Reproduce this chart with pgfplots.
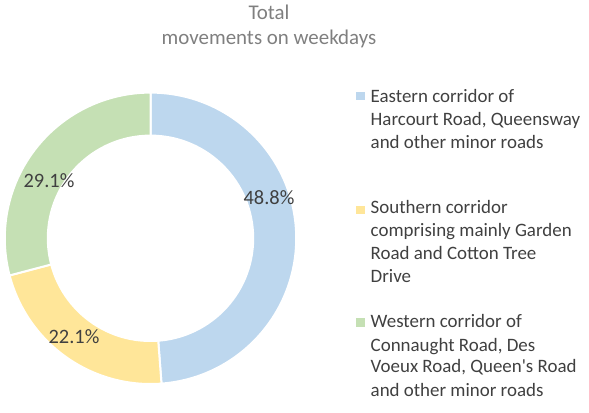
\documentclass[border=0pt]{standalone}
\usepackage{pgfplots}
\usepackage{pgfplotstable}
\usepackage{fontspec}
\setmainfont{Carlito}
\pgfplotsset{compat=1.18}

\definecolor{cblue}{HTML}{BDD7EE}
\definecolor{cyellow}{HTML}{FFE699}
\definecolor{cgreen}{HTML}{C5E0B4}
\definecolor{labgray}{HTML}{404040}
\definecolor{titlegray}{HTML}{7F7F7F}

% share in percent, fill colour, label position (axis units)
\pgfplotstableread{
share colour lx     ly
48.8  cblue   0.813  0.277
22.1  cyellow -0.525 -0.677
29.1  cgreen  -0.697 0.393
}\donut

\begin{document}
\begin{tikzpicture}
\path[use as bounding box] (0,0) rectangle (589bp,413bp);

\begin{axis}[
    at={(4.8bp,29bp)}, anchor=south west,
    scale only axis,
    width=291.4bp, height=291.4bp,
    xmin=-1, xmax=1, ymin=-1, ymax=1,
    hide axis, clip=false,
]
\pgfplotstablegetrowsof{\donut}
\pgfmathtruncatemacro{\last}{\pgfplotsretval-1}
\def\angA{90}
\pgfplotsforeachungrouped \i in {0,...,\last}{%
  \pgfplotstablegetelem{\i}{share}\of{\donut}\let\sh\pgfplotsretval
  \pgfplotstablegetelem{\i}{colour}\of{\donut}\let\col\pgfplotsretval
  \pgfmathsetmacro{\angB}{\angA-3.6*\sh}
  \edef\temp{%
    \noexpand\fill[\col, draw=white, line width=2bp, line join=round]
      (axis cs:0,0) -- ++(\angA:145.7bp)
      arc[start angle=\angA, end angle=\angB, radius=145.7bp] -- cycle;
  }\temp
  \let\angA\angB
}
\fill[white] (axis cs:0,0) circle[radius=103.7bp];
\pgfplotsforeachungrouped \i in {0,...,\last}{%
  \pgfplotstablegetelem{\i}{share}\of{\donut}\let\sh\pgfplotsretval
  \pgfplotstablegetelem{\i}{lx}\of{\donut}\let\lx\pgfplotsretval
  \pgfplotstablegetelem{\i}{ly}\of{\donut}\let\ly\pgfplotsretval
  \edef\temp{%
    \noexpand\node[text=labgray, inner sep=0pt,
      font=\noexpand\fontsize{20.5}{24}\noexpand\selectfont]
      at (axis cs:\lx,\ly) {\sh\noexpand\%};
  }\temp
}
\end{axis}

% title
\begin{scope}[every node/.style={text=titlegray, anchor=base, inner sep=0pt,
    font=\fontsize{21}{24}\selectfont}]
  \node at (269bp,393bp) {Total};
  \node at (269bp,368bp) {movements on weekdays};
\end{scope}

% legend
\fill[cblue]   (356bp,312.7bp) rectangle ++(8.6bp,8.6bp);
\fill[cyellow] (356bp,198.7bp) rectangle ++(8.6bp,8.6bp);
\fill[cgreen]  (356bp,86.2bp)  rectangle ++(8.6bp,8.6bp);
\begin{scope}[every node/.style={text=labgray, anchor=base west, inner sep=0pt,
    font=\fontsize{19}{22}\selectfont}]
  \node at (370.5bp,310.5bp) {Eastern corridor of};
  \node at (370.5bp,287bp)   {Harcourt Road, Queensway};
  \node at (370.5bp,264bp)   {and other minor roads};
  \node at (370.5bp,199.2bp) {Southern corridor};
  \node at (370.5bp,176.8bp) {comprising mainly Garden};
  \node at (370.5bp,153.2bp) {Road and Cotton Tree};
  \node at (370.5bp,130.8bp) {Drive};
  \node at (370.5bp,85.2bp)  {Western corridor of};
  \node at (370.5bp,61.8bp)  {Connaught Road, Des};
  \node at (370.5bp,40.2bp)  {Voeux Road, Queen\textquotesingle s Road};
  \node at (370.5bp,16.5bp)  {and other minor roads};
\end{scope}
\end{tikzpicture}
\end{document}
